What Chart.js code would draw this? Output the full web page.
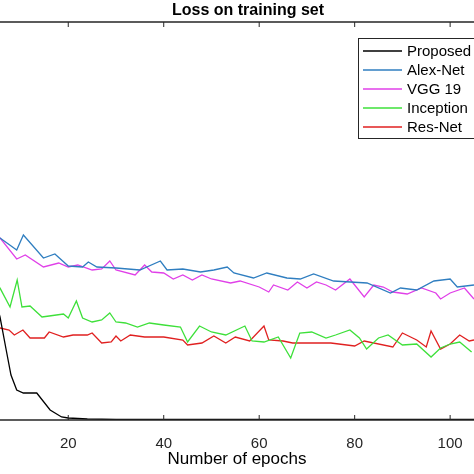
<!DOCTYPE html>
<html>
<head>
<meta charset="utf-8">
<script src="https://cdn.jsdelivr.net/npm/chart.js@4"></script>
<style>
body{margin:0;background:#fff;}
#wrap{width:474px;height:474px;}
</style>
</head>
<body>
<div id="wrap"><canvas id="myChart"></canvas></div>
<script>
// loss values (arbitrary units), epochs per series
const labels = ['Proposed', 'Alex-Net', 'VGG 19', 'Inception', 'Res-Net'];
const colors = ['#000000', '#2f7ec0', '#e040e8', '#3ee03a', '#e02020'];

const propEp = [1, 2, 3, 4, 5, 5.7, 7, 8, 9.2, 10.6, 13.4, 16.2, 18.6, 20, 24, 30, 50, 80, 105];
const propVal = [300, 250, 200, 150, 115, 103, 70, 45, 30, 27, 27, 10, 3, 2, 1, 0.5, 0.5, 0.5, 0.5];

const alexEp = [1, 5.7, 9.2, 10.6, 14.8, 17.2, 20, 23, 24.2, 26, 30, 35, 39.3, 40.7, 44, 47.7, 50.5, 53.3, 54.7, 58.8, 61.6, 65.8, 68.6, 71.4, 75.6, 82.6, 87.5, 89.6, 93, 96.6, 100, 101.5, 105];
const alexVal = [200, 182, 170, 185, 162, 166, 154, 153, 158, 153, 152, 150, 159, 150, 151, 148, 150, 153, 147, 142, 147, 142, 141, 146, 139, 137, 127, 132, 130, 139, 141, 133, 135];

const vggEp = [1, 5.7, 9.2, 11, 14.8, 18, 20, 22, 25, 27, 28.7, 30, 34, 36, 37.5, 40, 42, 44, 46, 48, 50, 54, 56, 60, 62, 63, 66, 68, 70, 72, 74, 76, 79, 82, 84, 86, 88, 91, 94, 97, 98, 100, 103, 105];
const vggVal = [200, 182, 161, 165, 153, 157, 153, 155, 150, 151, 159, 150, 145, 155, 148, 147, 141, 145, 140, 145, 141, 137, 139, 133, 128, 135, 130, 138, 132, 138, 135, 130, 141, 123, 135, 133, 128, 126, 132, 127, 121, 127, 132, 121];

const incEp = [1, 5.7, 7.8, 9.3, 10.3, 12, 14.5, 16, 19, 20, 21.7, 23, 25, 27, 28.7, 30, 32, 34.5, 37, 40, 43.5, 45, 47.5, 50, 53, 57, 58.5, 61, 64, 66.6, 68.5, 71, 74, 76, 79, 81, 82.5, 85, 87, 90, 93, 96, 98, 100, 102, 104.5];
const incVal = [150, 132, 113, 140, 113, 114, 103, 104, 106, 102, 119, 102, 98, 100, 107, 98, 97, 93, 97, 95, 93, 78, 94, 88, 85, 94, 79, 78, 83, 62, 87, 88, 82, 85, 90, 82, 71, 82, 85, 75, 76, 63, 72, 76, 78, 68];

const resEp = [1, 5.7, 7.6, 8.7, 10.5, 12, 15, 16, 19, 21, 24, 25, 27, 29, 30, 31, 33, 36, 40, 44, 45, 48, 50.5, 53, 55, 58, 61, 62, 65, 67, 75, 80, 82, 88, 90, 93, 95, 96, 98, 100, 102, 104, 105];
const resVal = [95, 92, 90, 85, 90, 82, 82, 88, 83, 85, 85, 87, 77, 78, 84, 79, 85, 83, 83, 80, 75, 77, 84, 77, 83, 79, 94, 80, 79, 77, 77, 74, 79, 73, 87, 80, 73, 89, 71, 76, 85, 79, 80];

const epochSets = [propEp, alexEp, vggEp, incEp, resEp];
const valueSets = [propVal, alexVal, vggVal, incVal, resVal];
const xTicks = [20, 40, 60, 80, 100];

const datasets = labels.map((name, i) => ({
  label: name,
  data: epochSets[i].map((e, j) => ({x: e, y: valueSets[i][j]})),
  borderColor: colors[i],
  borderWidth: 1.3,
  pointRadius: 0,
  tension: 0,
  fill: false
}));

// frame, tick marks, title and legend the matlab way
const matlabLook = {
  id: 'matlabLook',
  afterDraw(chart) {
    const ctx = chart.ctx;
    const a = chart.chartArea;
    const xs = chart.scales.x;
    ctx.save();
    ctx.strokeStyle = '#262626';
    ctx.lineWidth = 1.5;
    ctx.beginPath();
    ctx.moveTo(a.left - 1, a.top); ctx.lineTo(a.right + 1, a.top);
    ctx.moveTo(a.left - 1, a.bottom); ctx.lineTo(a.right + 1, a.bottom);
    ctx.stroke();
    ctx.lineWidth = 1;
    xTicks.forEach(t => {
      const px = xs.getPixelForValue(t);
      ctx.beginPath();
      ctx.moveTo(px, a.bottom); ctx.lineTo(px, a.bottom - 5);
      ctx.moveTo(px, a.top); ctx.lineTo(px, a.top + 5);
      ctx.stroke();
    });
    ctx.fillStyle = '#000';
    ctx.font = 'bold 16px "Liberation Sans", Arial';
    ctx.textAlign = 'center';
    ctx.textBaseline = 'middle';
    ctx.fillText('Loss on training set', 248, 11);

    // legend
    ctx.fillStyle = '#fff';
    ctx.fillRect(358, 38, 120, 100);
    ctx.strokeStyle = '#262626';
    ctx.strokeRect(358.5, 38.5, 120, 100);
    ctx.font = '15px "Liberation Sans", Arial';
    ctx.textAlign = 'left';
    labels.forEach((name, i) => {
      const y = 51 + i * 19;
      ctx.strokeStyle = colors[i];
      ctx.lineWidth = 1.3;
      ctx.beginPath();
      ctx.moveTo(363, y); ctx.lineTo(402, y);
      ctx.stroke();
      ctx.fillStyle = '#000';
      ctx.fillText(name, 407, y + 1);
    });
    ctx.restore();
  }
};

new Chart(document.getElementById('myChart'), {
  type: 'line',
  data: {datasets: datasets},
  options: {
    responsive: true,
    maintainAspectRatio: false,
    animation: false,
    layout: {padding: {top: 22, left: 0, right: 0, bottom: 0}},
    plugins: {legend: {display: false}, title: {display: false}, tooltip: {enabled: false}},
    scales: {
      x: {
        type: 'linear',
        min: 5.7,
        max: 105,
        afterFit: s => { s.height = 54; },
        afterBuildTicks: s => { s.ticks = xTicks.map(v => ({value: v})); },
        grid: {display: false},
        border: {display: false},
        ticks: {color: '#262626', font: {size: 15, family: '"Liberation Sans", Arial'}, padding: 7, maxRotation: 0},
        title: {display: true, text: 'Number of epochs', color: '#000', font: {size: 17, family: '"Liberation Sans", Arial'}, padding: {top: 0}}
      },
      y: {
        display: false,
        min: 0,
        max: 398
      }
    }
  },
  plugins: [matlabLook]
});
</script>
</body>
</html>
